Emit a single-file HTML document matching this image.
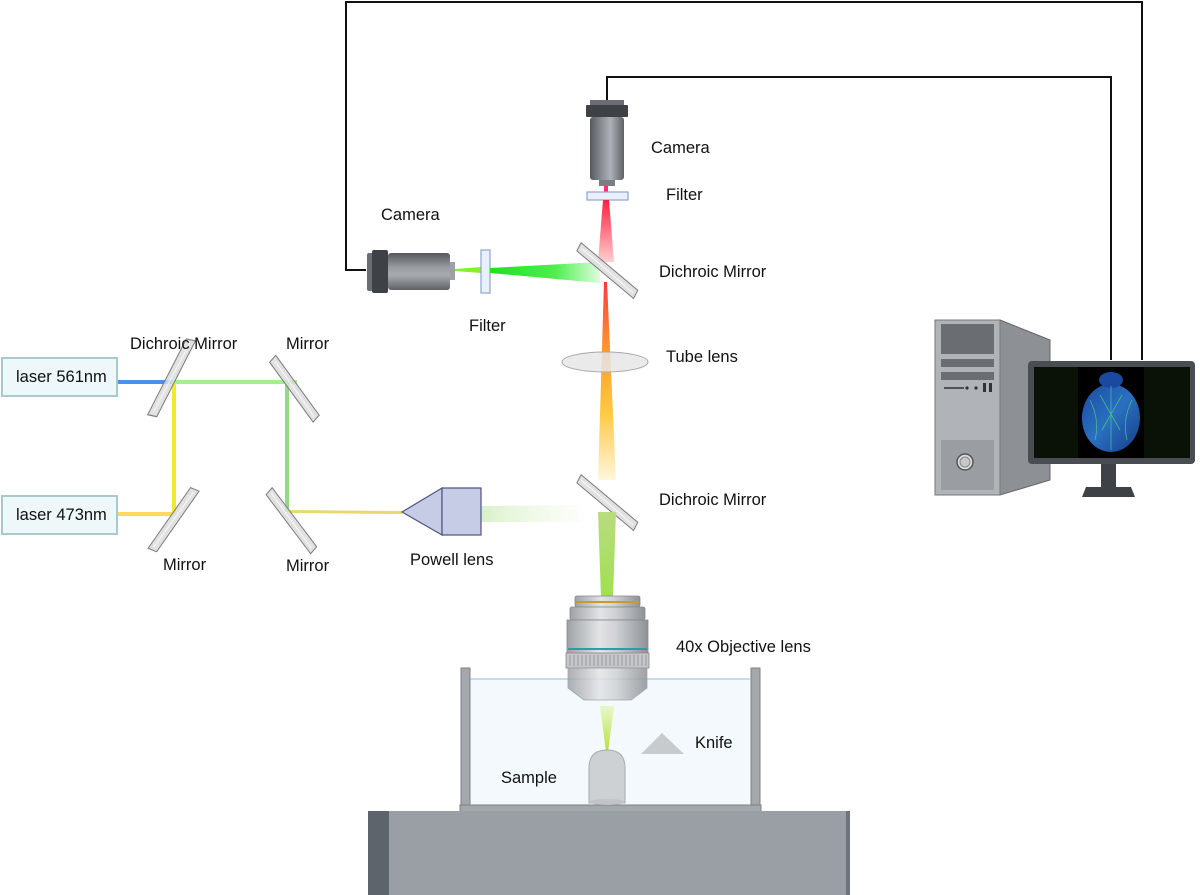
<!DOCTYPE html>
<html><head><meta charset="utf-8"><style>
html,body{margin:0;padding:0;background:#fff;width:1200px;height:895px;overflow:hidden}
svg{display:block}
text{font-family:"Liberation Sans",sans-serif;font-size:16.5px;fill:#111}
</style></head><body>
<svg width="1200" height="895" viewBox="0 0 1200 895" xmlns="http://www.w3.org/2000/svg">
<defs>
<linearGradient id="vbeam" x1="0" y1="0" x2="0" y2="1">
<stop offset="0" stop-color="#ff3a3a"/><stop offset="0.35" stop-color="#ff9a30"/><stop offset="0.65" stop-color="#ffc840"/><stop offset="1" stop-color="#fff6dc"/></linearGradient>
<linearGradient id="redtop" x1="0" y1="0" x2="0" y2="1"><stop offset="0" stop-color="#ff2040"/><stop offset="1" stop-color="#ffd0d0"/></linearGradient>
<linearGradient id="greenh" x1="0" y1="0" x2="1" y2="0"><stop offset="0" stop-color="#20e020"/><stop offset="0.6" stop-color="#50ee50"/><stop offset="1" stop-color="#e0fce0"/></linearGradient>
<linearGradient id="powb" x1="0" y1="0" x2="1" y2="0"><stop offset="0" stop-color="#bfe8a8"/><stop offset="1" stop-color="#f4fbea" stop-opacity="0.3"/></linearGradient>
<linearGradient id="objb" x1="0" y1="0" x2="0" y2="1"><stop offset="0" stop-color="#b8dc80"/><stop offset="1" stop-color="#a0e050"/></linearGradient>
<linearGradient id="lowb" x1="0" y1="0" x2="0" y2="1"><stop offset="0" stop-color="#e8f8c8"/><stop offset="1" stop-color="#b8e040"/></linearGradient>
<linearGradient id="cyl" x1="0" y1="0" x2="1" y2="0"><stop offset="0" stop-color="#55595e"/><stop offset="0.35" stop-color="#8c9096"/><stop offset="0.6" stop-color="#aeb2b7"/><stop offset="1" stop-color="#5f6368"/></linearGradient>
<linearGradient id="cylh" x1="0" y1="0" x2="0" y2="1"><stop offset="0" stop-color="#55595e"/><stop offset="0.4" stop-color="#9a9ea3"/><stop offset="0.6" stop-color="#a8acb1"/><stop offset="1" stop-color="#5f6368"/></linearGradient>
<linearGradient id="obj" x1="0" y1="0" x2="1" y2="0"><stop offset="0" stop-color="#9ea2a7"/><stop offset="0.4" stop-color="#e2e4e6"/><stop offset="0.6" stop-color="#cfd2d5"/><stop offset="1" stop-color="#8e9297"/></linearGradient>
<linearGradient id="brain" x1="0" y1="0" x2="1" y2="1"><stop offset="0" stop-color="#1a4aa0"/><stop offset="0.5" stop-color="#2a70c0"/><stop offset="1" stop-color="#143c88"/></linearGradient>
<g id="mir"><polygon points="-38,-5 36,-5 38,4 -36,4" fill="#dcdcdc" fill-opacity="0.85" stroke="#7a7a7a" stroke-width="1"/><line x1="-34" y1="-1" x2="34" y2="0" stroke="#fff" stroke-width="1" opacity="0.8"/></g>
</defs>

<polyline points="366,270 346,270 346,2 1142,2 1142,360" fill="none" stroke="#111" stroke-width="2"/>
<polyline points="607,100 607,77 1111,77 1111,360" fill="none" stroke="#111" stroke-width="2"/>

<rect x="590" y="100" width="34" height="7" fill="#6a6e73"/>
<rect x="586" y="105" width="42" height="12" rx="1" fill="#3e4145"/>
<rect x="590" y="117" width="34" height="63" rx="3" fill="url(#cyl)"/>
<rect x="599" y="180" width="16" height="6" fill="#7a7e83"/>
<rect x="604" y="186" width="4" height="6" fill="#ff3070"/>
<rect x="587" y="192" width="41" height="8" fill="#eaf0fa" stroke="#8fa3d0" stroke-width="1.2"/>
<polygon points="603,200 609,200 614,262 598,262" fill="url(#redtop)"/>

<rect x="367" y="253" width="20" height="38" rx="2" fill="#6a6e73"/>
<rect x="372" y="250" width="16" height="43" rx="2" fill="#3e4145"/>
<rect x="388" y="253" width="62" height="37" rx="3" fill="url(#cylh)"/>
<rect x="450" y="262" width="5" height="18" fill="#9ea2a7"/>
<polygon points="455,269 481,267 481,273 455,271" fill="#88ee30"/>
<rect x="481" y="250" width="9" height="43" fill="#eaf0fa" stroke="#8fa3d0" stroke-width="1.2"/>
<polygon points="490,268 600,262 600,283 490,273" fill="url(#greenh)"/>

<polygon points="604,282 607,282 616,480 598,480" fill="url(#vbeam)"/>
<ellipse cx="605" cy="362" rx="43" ry="10" fill="#e6e6e6" fill-opacity="0.85" stroke="#a8a8a8" stroke-width="1"/>

<use href="#mir" transform="translate(607,271) rotate(40)"/>
<use href="#mir" transform="translate(607,503) rotate(40)"/>

<rect x="117" y="380" width="55" height="4" fill="#4a90ee"/>
<rect x="172" y="380" width="125" height="4" fill="#a8ec90"/>
<rect x="172" y="382" width="4" height="132" fill="#f2e830"/>
<rect x="117" y="512" width="57" height="4" fill="#ffd860"/>
<rect x="285" y="384" width="4" height="128" fill="#98d880"/>
<polygon points="289,510 402,511 402,514 289,513" fill="#e8d870"/>
<polygon points="442,511 481,506 580,505 580,522 481,522 442,514" fill="url(#powb)"/>
<rect x="2" y="358" width="115" height="38" fill="#eef7fa" stroke="#a9c8d0" stroke-width="2"/>
<rect x="2" y="496" width="115" height="38" fill="#eef7fa" stroke="#a9c8d0" stroke-width="2"/>
<text x="16" y="382">laser 561nm</text>
<text x="16" y="520">laser 473nm</text>
<use href="#mir" transform="translate(172,378) rotate(-63) scale(1.15,1)"/>
<use href="#mir" transform="translate(294,389) rotate(54)"/>
<use href="#mir" transform="translate(291,521) rotate(53)"/>
<use href="#mir" transform="translate(174,520) rotate(-55)"/>
<polygon points="402,512 442,488 442,535" fill="#c6cbe6" stroke="#4a5280" stroke-width="1.2"/>
<rect x="442" y="488" width="39" height="47" fill="#c6cbe6" stroke="#4a5280" stroke-width="1.2"/>

<polygon points="598,512 616,512 613,598 601,598" fill="url(#objb)"/>

<rect x="470" y="679" width="280" height="127" fill="#f3f9fc"/>
<line x1="470" y1="679" x2="750" y2="679" stroke="#b6d4e0" stroke-width="1.5"/>
<rect x="461" y="668" width="9" height="140" fill="#a4a8ad" stroke="#7d8186" stroke-width="1"/>
<rect x="751" y="668" width="9" height="140" fill="#a4a8ad" stroke="#7d8186" stroke-width="1"/>
<rect x="460" y="805" width="301" height="7" fill="#a4a8ad" stroke="#7d8186" stroke-width="1"/>

<rect x="575" y="596" width="65" height="11" rx="2" fill="url(#obj)" stroke="#888" stroke-width="0.8"/>
<line x1="576" y1="602" x2="639" y2="602" stroke="#c89a30" stroke-width="2"/>
<rect x="570" y="607" width="75" height="13" rx="2" fill="url(#obj)" stroke="#888" stroke-width="0.8"/>
<rect x="567" y="620" width="81" height="34" fill="url(#obj)" stroke="#888" stroke-width="0.8"/>
<line x1="568" y1="649" x2="647" y2="649" stroke="#2a9ea0" stroke-width="2"/>
<rect x="566" y="653" width="83" height="15" fill="#c4c7ca" stroke="#888" stroke-width="0.8"/>
<g stroke="#888" stroke-width="0.7">
<line x1="570" y1="655" x2="570" y2="666"/><line x1="574" y1="655" x2="574" y2="666"/><line x1="578" y1="655" x2="578" y2="666"/><line x1="582" y1="655" x2="582" y2="666"/><line x1="586" y1="655" x2="586" y2="666"/><line x1="590" y1="655" x2="590" y2="666"/><line x1="594" y1="655" x2="594" y2="666"/><line x1="598" y1="655" x2="598" y2="666"/><line x1="602" y1="655" x2="602" y2="666"/><line x1="606" y1="655" x2="606" y2="666"/><line x1="610" y1="655" x2="610" y2="666"/><line x1="614" y1="655" x2="614" y2="666"/><line x1="618" y1="655" x2="618" y2="666"/><line x1="622" y1="655" x2="622" y2="666"/><line x1="626" y1="655" x2="626" y2="666"/><line x1="630" y1="655" x2="630" y2="666"/><line x1="634" y1="655" x2="634" y2="666"/><line x1="638" y1="655" x2="638" y2="666"/><line x1="642" y1="655" x2="642" y2="666"/><line x1="646" y1="655" x2="646" y2="666"/>
</g>
<polygon points="568,668 647,668 647,688 631,700 584,700 568,688" fill="url(#obj)" stroke="#999" stroke-width="0.8" opacity="0.85"/>
<polygon points="600,706 614,706 608,752 606,752" fill="url(#lowb)"/>

<path d="M589,803 L589,768 Q589,750 607,750 Q625,750 625,768 L625,803 Z" fill="#cdd1d4" stroke="#a8acb0" stroke-width="1"/>
<ellipse cx="607" cy="802" rx="18" ry="3" fill="#c0c4c8"/>
<polygon points="641,754 662,733 684,754" fill="#c8cbce"/>
<rect x="368" y="811" width="482" height="84" fill="#9a9ea5"/>
<rect x="368" y="811" width="21" height="84" fill="#5e646b"/>
<rect x="846" y="811" width="4" height="84" fill="#6e747b"/>

<polygon points="1000,320 1050,340 1050,480 1000,495" fill="#8d9095" stroke="#666" stroke-width="1"/>
<rect x="935" y="320" width="65" height="175" fill="#b0b3b7" stroke="#777" stroke-width="1"/>
<rect x="941" y="324" width="53" height="30" fill="#6a6d72"/>
<rect x="941" y="359" width="53" height="8" fill="#6a6d72"/>
<rect x="941" y="372" width="53" height="8" fill="#6a6d72"/>
<line x1="944" y1="388" x2="964" y2="388" stroke="#333" stroke-width="1.5"/>
<circle cx="967" cy="388" r="1.6" fill="#333"/><circle cx="976" cy="388" r="1.6" fill="#333"/>
<rect x="983" y="383" width="3" height="9" fill="#333"/><rect x="989" y="383" width="3" height="9" fill="#333"/>
<polygon points="941,440 994,440 994,490 941,490" fill="#9a9da1"/>
<circle cx="965" cy="462" r="8" fill="#ddd" stroke="#555" stroke-width="1.5"/>
<circle cx="965" cy="462" r="5" fill="#c8c8c8" stroke="#888" stroke-width="1"/>
<rect x="1028" y="361" width="167" height="103" rx="4" fill="#4a4d52"/>
<rect x="1034" y="367" width="156" height="91" fill="#0a1208"/>
<rect x="1078" y="367" width="66" height="91" fill="#000"/>
<ellipse cx="1111" cy="418" rx="29" ry="34" fill="url(#brain)"/>
<ellipse cx="1111" cy="380" rx="12" ry="8" fill="#1a4aa0"/>
<g stroke="#50d080" stroke-width="0.8" fill="none" opacity="0.8">
<path d="M1111,386 L1111,450"/><path d="M1090,400 Q1100,420 1095,440"/><path d="M1132,400 Q1122,420 1127,440"/><path d="M1100,395 L1120,430"/><path d="M1122,395 L1102,430"/></g>
<rect x="1101" y="464" width="15" height="23" fill="#3e4145"/>
<polygon points="1086,487 1131,487 1135,497 1082,497" fill="#3e4145"/>

<text x="651" y="153">Camera</text>
<text x="666" y="200">Filter</text>
<text x="381" y="220">Camera</text>
<text x="659" y="277">Dichroic Mirror</text>
<text x="469" y="331">Filter</text>
<text x="666" y="362">Tube lens</text>
<text x="130" y="349">Dichroic Mirror</text>
<text x="286" y="349">Mirror</text>
<text x="659" y="505">Dichroic Mirror</text>
<text x="163" y="570">Mirror</text>
<text x="286" y="571">Mirror</text>
<text x="410" y="565">Powell lens</text>
<text x="676" y="652">40x Objective lens</text>
<text x="695" y="748">Knife</text>
<text x="501" y="783">Sample</text>
</svg>
</body></html>
